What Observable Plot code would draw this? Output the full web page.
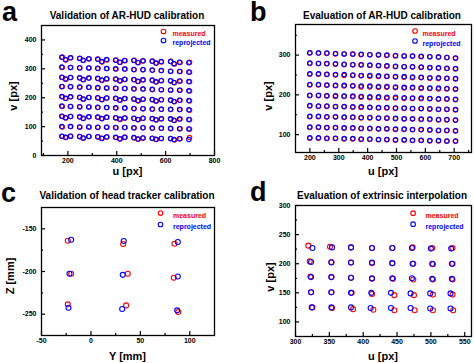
<!DOCTYPE html>
<html><head><meta charset="utf-8">
<script src="https://cdn.jsdelivr.net/npm/d3@7"></script>
<script src="https://cdn.jsdelivr.net/npm/@observablehq/plot@0.6"></script>
<style>
html,body{margin:0;padding:0;background:#fff;}
#wrap{position:relative;width:474px;height:363px;display:grid;grid-template-columns:237px 237px;grid-template-rows:180px 183px;}
.panel{position:relative;width:237px;}
#labels{position:absolute;left:0;top:0;pointer-events:none;}
#labels text{font-family:"Liberation Sans",Arial,sans-serif;font-weight:bold;fill:#000;}
</style>
</head><body>
<div id="wrap">
  <div class="panel" id="pa"></div>
  <div class="panel" id="pb"></div>
  <div class="panel" id="pc"></div>
  <div class="panel" id="pd"></div>
  <svg id="labels" width="474" height="363">
    <text x="2" y="21" font-size="27">a</text>
    <text x="250" y="21" font-size="27">b</text>
    <text x="1" y="201.5" font-size="27">c</text>
    <text x="250" y="201" font-size="27">d</text>
    <text x="127" y="19" font-size="10" text-anchor="middle">Validation of AR-HUD calibration</text>
    <text x="382" y="19" font-size="10" text-anchor="middle">Evaluation of AR-HUD calibration</text>
    <text x="127" y="199" font-size="10" text-anchor="middle">Validation of head tracker calibration</text>
    <text x="382" y="199" font-size="10" text-anchor="middle">Evaluation of extrinsic interpolation</text>
    <text x="127.5" y="175" font-size="11" text-anchor="middle">u [px]</text>
    <text x="383" y="175" font-size="11" text-anchor="middle">u [px]</text>
    <text x="127.5" y="360" font-size="11" text-anchor="middle">Y [mm]</text>
    <text x="383" y="360" font-size="11" text-anchor="middle">u [px]</text>
    <text transform="translate(16.5,96) rotate(-90)" font-size="11" text-anchor="middle">v [px]</text>
    <text transform="translate(272,96) rotate(-90)" font-size="11" text-anchor="middle">v [px]</text>
    <text transform="translate(13.5,276) rotate(-90)" font-size="11" text-anchor="middle">Z [mm]</text>
    <text transform="translate(273.5,277) rotate(-90)" font-size="11" text-anchor="middle">v [px]</text>
  </svg>
</div>
<script>
// ---------- Panel a: Validation of AR-HUD calibration ----------
const aColsRep  = [175, 210, 248, 285, 322, 358, 395, 432, 470, 507, 545, 582, 620, 657, 695];
const aColsMeas = [177, 212, 249, 287, 323, 360, 397, 434, 471, 508, 546, 583, 621, 659, 698];
const aRowsRep = [
  [340, 338, 336, 335, 333, 332, 330, 329, 329, 328, 326, 325, 325, 323, 321],
  [306, 305, 304, 303, 302, 301, 300, 299, 298, 297, 296, 294, 292, 291, 289],
  [271, 270, 269, 268, 267, 266, 265, 264, 263, 262, 261, 260, 259, 258, 256],
  [239, 238, 237, 236, 235, 234, 233, 232, 231, 230, 229, 228, 227, 226, 224],
  [204, 203, 202, 201, 200, 199, 198, 197, 196, 195, 194, 193, 192, 191, 190],
  [171, 170, 169, 168, 167, 166, 165, 164, 163, 162, 161, 160, 160, 159, 158],
  [136, 135, 134, 134, 133, 132, 131, 130, 129, 129, 128, 127, 127, 126, 125],
  [100, 100, 99, 99, 98, 98, 97, 97, 96, 96, 95, 94, 94, 93, 92],
  [67, 67, 66, 66, 65, 64, 63, 63, 62, 61, 60, 59, 59, 58, 55]
];
const aRowsMeas = [
  [341, 338, 337, 334, 334, 331, 331, 328, 330, 327, 327, 324, 326, 322, 323],
  [305, 305, 303, 303, 301, 301, 299, 299, 297, 297, 295, 294, 291, 291, 288],
  [270, 270, 268, 268, 266, 265, 264, 263, 262, 261, 260, 259, 258, 257, 255],
  [238, 238, 236, 236, 234, 234, 232, 232, 230, 230, 228, 228, 226, 226, 223],
  [203, 203, 201, 201, 199, 199, 197, 197, 195, 195, 193, 193, 191, 191, 189],
  [170, 170, 168, 168, 166, 166, 164, 164, 162, 162, 160, 160, 159, 159, 157],
  [135, 135, 133, 134, 132, 132, 130, 130, 128, 129, 127, 127, 126, 126, 124],
  [99, 100, 98, 99, 97, 98, 96, 97, 95, 96, 94, 94, 93, 93, 91],
  [66, 67, 65, 66, 64, 64, 62, 63, 61, 61, 59, 59, 58, 58, 62]
];
const aExtraRep = [
  [190,332],[262,330],[338,325],[412,323],[486,322],[560,320],[634,318],
  [190,265],[262,263],[338,261],[412,259],[486,257],[560,255],[634,253],
  [190,198],[262,196],[338,194],[412,192],[486,190],[560,189],[634,187],
  [190,131],[262,129],[338,128],[412,126],[486,125],[560,124],[634,122],
  [190,63],[262,61],[338,60],[412,58],[486,57],[560,56],[634,55]
];
const aExtraMeas = [
  [192,331],[264,329],[340,324],[414,322],[488,321],[562,319],[636,317],
  [192,264],[264,262],[340,260],[414,258],[488,256],[562,254],[636,252],
  [192,197],[264,195],[340,193],[414,191],[488,189],[562,188],[636,186],
  [192,130],[264,128],[340,127],[414,125],[488,124],[562,123],[636,121],
  [192,62],[264,60],[340,59],[414,57],[488,56],[562,55],[636,54]
];
const aXTicks = [200, 400, 600, 800];
const aXMinor = [100, 300, 500, 700];
const aYTicks = [0, 100, 200, 300, 400];
const aYMinor = [50, 150, 250, 350];

// ---------- Panel b: Evaluation of AR-HUD calibration ----------
const bColsRep  = [200, 230, 259, 289, 319, 349, 378, 408, 438, 467, 497, 527, 556, 586, 616, 646, 675, 705];
const bColsMeas = [199, 229, 258, 288, 318, 348, 377, 407, 437, 466, 496, 526, 555, 585, 615, 645, 674, 704];
const bRowsRep = [
  [306, 305, 305, 304, 303, 303, 302, 301, 301, 300, 299, 298, 298, 297, 296, 295, 294, 293],
  [280, 279, 279, 278, 277, 276, 276, 275, 274, 273, 272, 271, 271, 270, 269, 268, 267, 266],
  [253, 253, 252, 251, 251, 250, 249, 249, 248, 247, 246, 246, 245, 244, 243, 243, 242, 241],
  [226, 226, 225, 224, 224, 223, 222, 222, 221, 221, 220, 219, 219, 218, 217, 217, 216, 215],
  [199, 199, 198, 198, 197, 197, 196, 195, 195, 194, 194, 193, 192, 192, 191, 190, 190, 189],
  [173, 172, 172, 171, 171, 170, 170, 169, 168, 168, 167, 167, 166, 166, 165, 164, 164, 163],
  [146, 146, 145, 145, 144, 144, 143, 143, 142, 142, 141, 140, 140, 139, 139, 138, 138, 137],
  [119, 119, 118, 118, 117, 117, 116, 116, 115, 115, 114, 114, 113, 113, 112, 111, 111, 110],
  [92, 92, 91, 91, 90, 90, 89, 89, 88, 88, 87, 87, 86, 86, 85, 85, 84, 84]
];
const bRowsMeas = [
  [305, 305, 304, 303, 303, 302, 301, 301, 300, 299, 298, 298, 297, 296, 296, 295, 294, 292],
  [279, 279, 278, 277, 276, 276, 275, 274, 273, 272, 271, 271, 270, 269, 268, 267, 266, 265],
  [252, 252, 251, 250, 249, 249, 248, 247, 246, 246, 245, 244, 243, 243, 242, 241, 241, 240],
  [225, 225, 224, 223, 222, 222, 220, 220, 219, 219, 218, 217, 217, 216, 216, 215, 215, 214],
  [198, 198, 197, 196, 196, 195, 194, 193, 193, 192, 192, 191, 191, 190, 190, 189, 189, 188],
  [172, 171, 171, 170, 170, 169, 168, 168, 167, 167, 166, 166, 165, 165, 164, 163, 163, 162],
  [145, 145, 144, 144, 143, 143, 142, 142, 141, 141, 140, 139, 139, 138, 138, 137, 137, 136],
  [118, 118, 117, 117, 116, 116, 115, 115, 114, 114, 113, 113, 112, 112, 111, 110, 110, 109],
  [91, 91, 90, 90, 89, 89, 88, 88, 87, 87, 86, 86, 85, 85, 84, 84, 83, 83]
];
const bXTicks = [200, 300, 400, 500, 600, 700];
const bXMinor = [250, 350, 450, 550, 650, 750];
const bYTicks = [100, 200, 300];
const bYMinor = [150, 250, 350];

// ---------- Panel c: Validation of head tracker calibration ----------
const cMeasY = [-23.4, 32.6, 84.5, -20.0, 37.3, 83.8, -23.4, 35.6, 88.3];
const cMeasZ = [-163.9, -167.7, -167.4, -202.7, -202.7, -207.4, -238.5, -239.7, -247.5];
const cRepY  = [-20.0, 33.2, 87.9, -21.7, 32.2, 87.9, -22.7, 31.6, 87.2];
const cRepZ  = [-162.8, -164.2, -165.4, -202.7, -203.9, -205.9, -242.4, -244.0, -245.5];
const cXTicks = [-50, 0, 50, 100];
const cXMinor = [-25, 25, 75];
const cYTicks = [-250, -200, -150];
const cYMinor = [-225, -175];

// ---------- Panel d: Evaluation of extrinsic interpolation ----------
const dRep = [
  [325,227],[354,228],[382,228],[413,227],[443,227],[472,227],[500,226],[530,226],
  [323,203],[353,202],[382,202],[413,202],[443,201],[473,200],[502,200],[531,200],
  [323,177],[353,177],[382,176],[413,175],[443,175],[472,175],[502,174],[531,174],
  [323,151],[353,151],[382,150],[412,150],[441,150],[470,149],[499,149],[529,149],
  [324,125],[353,125],[382,125],[411,124],[441,124],[470,124],[499,123],[529,123]
];
const dMeas = [
  [319,231],[351,229],[382,228],[413,227],[443,227],[473,228],[502,227],[532,227],
  [321,204],[353,203],[382,202],[413,201],[443,201],[474,200],[503,199],[532,200],
  [322,178],[353,177],[382,176],[413,174],[444,174],[474,173],[503,173],[532,173],
  [323,151],[353,151],[383,150],[413,148],[446,146],[475,146],[503,147],[532,147],
  [325,125],[354,124],[385,122],[415,121],[446,120],[476,120],[503,120],[533,120]
];
const dXTicks = [300, 350, 400, 450, 500, 550];
const dXMinor = [325, 375, 425, 475, 525];
const dYTicks = [100, 150, 200, 250, 300];
const dYMinor = [125, 175, 225, 275];

const seriesNames = ["measured", "reprojected"];
const RED = "#ff0000", BLUE = "#0000ff";

const gridPts = (cols, rows) => rows.flatMap(r => r.map((v, i) => ({u: cols[i], v})));
const pairPts = arr => arr.map(([u, v]) => ({u, v}));
const aMeas = gridPts(aColsMeas, aRowsMeas).concat(pairPts(aExtraMeas));
const aRep  = gridPts(aColsRep, aRowsRep).concat(pairPts(aExtraRep));
const bMeas = gridPts(bColsMeas, bRowsMeas);
const bRep  = gridPts(bColsRep, bRowsRep);
const cMeas = cMeasY.map((u, i) => ({u, v: cMeasZ[i]}));
const cRep  = cRepY.map((u, i) => ({u, v: cRepZ[i]}));
const dM = pairPts(dMeas);
const dR = pairPts(dRep);

function panel(el, o) {
  const iw = o.w - o.ml - o.mr, ih = o.h - o.mt - o.mb;
  const txt = {fontWeight: "bold", fontSize: 7};
  const marks = [
    Plot.frame({stroke: "#000", strokeWidth: 1.3, fill: "none"}),
    Plot.tickX(o.xMinor, {x: d => d, insetTop: ih - 2, stroke: "#000", strokeWidth: 1.2}),
    Plot.tickX(o.xTicks, {x: d => d, insetTop: ih - 4, stroke: "#000", strokeWidth: 1.2}),
    Plot.tickY(o.yMinor, {y: d => d, insetRight: iw - 2, stroke: "#000", strokeWidth: 1.2}),
    Plot.tickY(o.yTicks, {y: d => d, insetRight: iw - 4, stroke: "#000", strokeWidth: 1.2}),
    Plot.axisX(o.xTicks, {tickSize: 0, tickPadding: 3, label: null, tickFormat: d => String(d), ...txt}),
    Plot.axisY(o.yTicks, {tickSize: 0, tickPadding: 5, label: null, tickFormat: d => String(d), ...txt}),
    Plot.dot(o.meas, {x: "u", y: "v", r: o.r, stroke: RED, strokeWidth: 1.1}),
    Plot.dot(o.rep, {x: "u", y: "v", r: o.r, stroke: BLUE, strokeWidth: 1.1}),
    Plot.dot([seriesNames[0]], {frameAnchor: "top-right", dx: o.leg.sx, dy: o.leg.y1, r: 2.3, stroke: RED, strokeWidth: 1.1}),
    Plot.dot([seriesNames[1]], {frameAnchor: "top-right", dx: o.leg.sx, dy: o.leg.y2, r: 2.3, stroke: BLUE, strokeWidth: 1.1}),
    Plot.text([seriesNames[0]], {text: d => d, frameAnchor: "top-right", dx: o.leg.tx, dy: o.leg.y1, textAnchor: "start", fill: RED, fontWeight: "bold", fontSize: 7}),
    Plot.text([seriesNames[1]], {text: d => d, frameAnchor: "top-right", dx: o.leg.tx, dy: o.leg.y2, textAnchor: "start", fill: BLUE, fontWeight: "bold", fontSize: 7})
  ];
  el.append(Plot.plot({
    width: o.w, height: o.h,
    marginLeft: o.ml, marginRight: o.mr, marginTop: o.mt, marginBottom: o.mb,
    x: {domain: o.xd}, y: {domain: o.yd},
    style: {background: "transparent", overflow: "visible", color: "black", fontFamily: "Liberation Sans, Arial, sans-serif"},
    marks
  }));
}

panel(document.getElementById("pa"), {
  w: 237, h: 180, ml: 41, mr: 23, mt: 25, mb: 25,
  xd: [92, 800], yd: [0, 450],
  xTicks: aXTicks, xMinor: aXMinor, yTicks: aYTicks, yMinor: aYMinor,
  meas: aMeas, rep: aRep, r: 2.2,
  leg: {sx: -51, tx: -42, y1: 6, y2: 15}
});
panel(document.getElementById("pb"), {
  w: 237, h: 180, ml: 58, mr: 3, mt: 24, mb: 28,
  xd: [150, 760], yd: [55, 377],
  xTicks: bXTicks, xMinor: bXMinor, yTicks: bYTicks, yMinor: bYMinor,
  meas: bMeas, rep: bRep, r: 2.2,
  leg: {sx: -56.5, tx: -49, y1: 6.5, y2: 16.5}
});
panel(document.getElementById("pc"), {
  w: 237, h: 183, ml: 41, mr: 23, mt: 27, mb: 28,
  xd: [-50, 125], yd: [-275, -125],
  xTicks: cXTicks, xMinor: cXMinor, yTicks: cYTicks, yMinor: cYMinor,
  meas: cMeas, rep: cRep, r: 2.5,
  leg: {sx: -54, tx: -41.5, y1: 5.6, y2: 17}
});
panel(document.getElementById("pd"), {
  w: 237, h: 183, ml: 58, mr: 3, mt: 25, mb: 27,
  xd: [300, 560], yd: [75, 300],
  xTicks: dXTicks, xMinor: dXMinor, yTicks: dYTicks, yMinor: dYMinor,
  meas: dM, rep: dR, r: 2.5,
  leg: {sx: -58.4, tx: -46, y1: 7.7, y2: 18.7}
});
</script>
</body></html>
